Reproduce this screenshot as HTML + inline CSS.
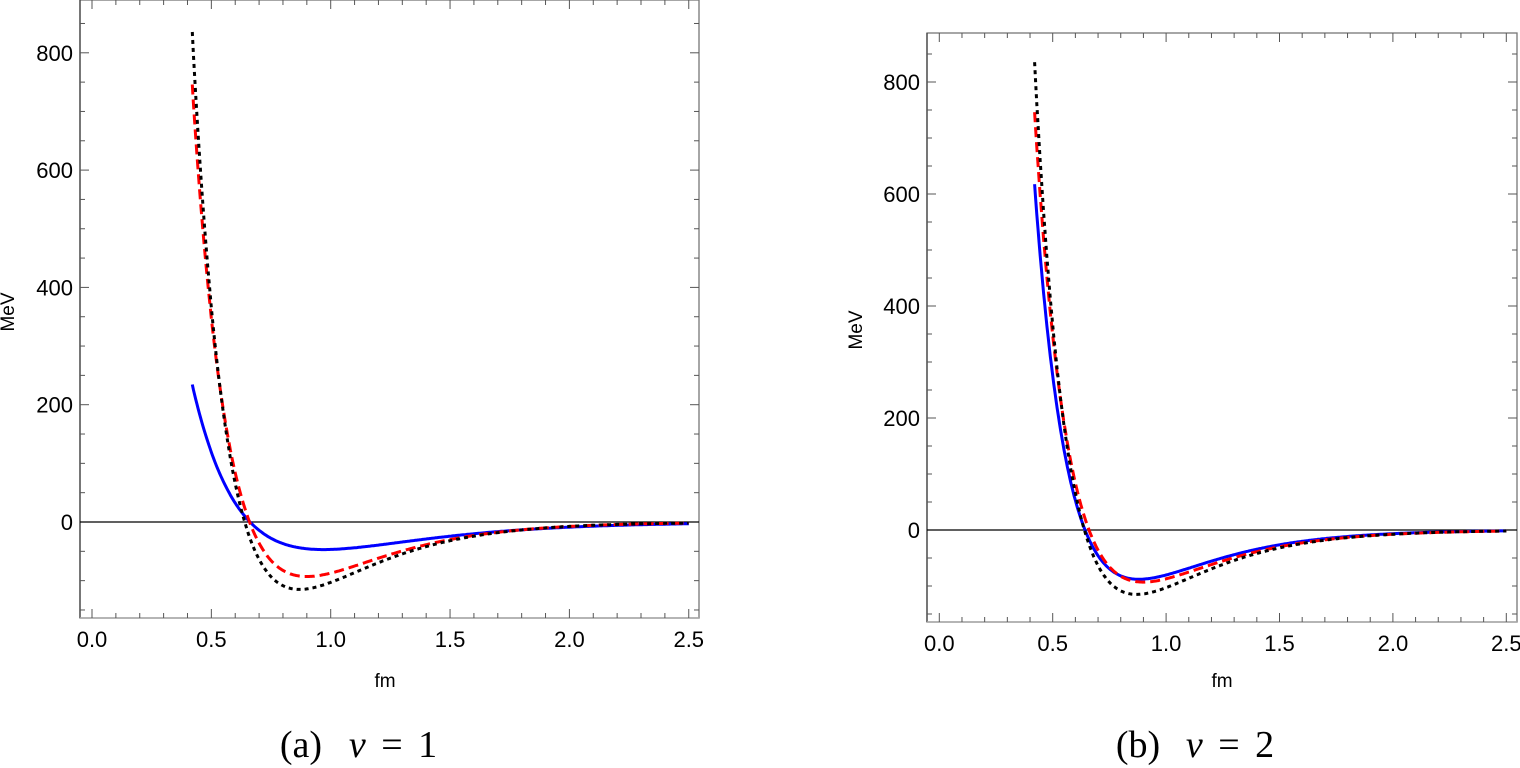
<!DOCTYPE html>
<html><head><meta charset="utf-8">
<style>
html,body{margin:0;padding:0;background:#fff;}
svg{display:block;}
text{font-family:"Liberation Sans",sans-serif;}
</style></head>
<body>
<svg id="s" width="1520" height="768" xmlns="http://www.w3.org/2000/svg"></svg>
<script>
const s=document.getElementById('s');
let h='';
function plot(p){
  const X=v=>p.x0+v*p.sx, Y=v=>p.y0-v*p.sy;
  h+=`<rect x="${p.L}" y="${p.T}" width="${p.R-p.L}" height="${p.B-p.T}" fill="none" stroke="#777" stroke-width="1.3"/>`;
  h+=`<line x1="${p.L}" y1="${p.T}" x2="${p.L}" y2="${p.B}" stroke="#444" stroke-width="1.3"/>`;
  h+=`<line x1="${p.L}" y1="${p.B}" x2="${p.R}" y2="${p.B}" stroke="#aaa" stroke-width="1.5"/>`;
  for(let i=0;i<=25;i++){const x=X(i/10);const L=i%5==0?9:5;
    h+=`<line x1="${x}" y1="${p.B}" x2="${x}" y2="${p.B-L}" stroke="#555"/>`;
    h+=`<line x1="${x}" y1="${p.T}" x2="${x}" y2="${p.T+L}" stroke="#555"/>`;
    if(i%5==0)h+=`<text x="${x}" y="${p.B+29}" font-size="22" text-anchor="middle">${(i/10).toFixed(1)}</text>`;}
  for(let v=-150;v<=850;v+=50){const y=Y(v);const L=v%200==0?9:5;
    h+=`<line x1="${p.L}" y1="${y}" x2="${p.L+L}" y2="${y}" stroke="#555"/>`;
    h+=`<line x1="${p.R}" y1="${y}" x2="${p.R-L}" y2="${y}" stroke="#555"/>`;
    if(v%200==0)h+=`<text x="${p.L-7}" y="${y+8}" font-size="22" text-anchor="end">${v}</text>`;}
  h+=`<line x1="${p.L}" y1="${Y(0)}" x2="${p.R}" y2="${Y(0)}" stroke="#000" stroke-width="1.3"/>`;
  h+=`<text x="${p.mx}" y="${p.my}" font-size="19" text-anchor="middle" transform="rotate(-90 ${p.mx} ${p.my})">MeV</text>`;
  h+=`<text x="${p.fx}" y="687" font-size="19" text-anchor="middle">fm</text>`;
  h+=`<text x="${p.fx-84}" y="757" font-size="38" text-anchor="middle" style="font-family:'Liberation Serif',serif">(${p.c})</text>`;
  h+=`<text x="${p.fx+8}" y="757" font-size="38" text-anchor="middle" style="font-family:'Liberation Serif',serif"><tspan font-style="italic">ν</tspan> <tspan dx="6">=</tspan> <tspan dx="6">${p.n}</tspan></text>`;
  for(const c of p.curves){
    let d='';
    for(let r=0.42;r<=2.5001;r+=0.005){const u=Math.exp(-c.a*(r-c.re));const v=c.D*(u*u-2*u);
      d+=(d?'L':'M')+X(r).toFixed(1)+','+Y(v).toFixed(1);}
    h+=`<path d="${d}" fill="none" stroke="${c.col}" stroke-width="3" ${c.dash?`stroke-dasharray="${c.dash}"`:''}/>`;
  }
}
const black={D:115,re:0.87,a:3.01,col:'#000',dash:'4 4'};
const red={D:93,re:0.9,a:2.89,col:'#f00',dash:'10 5'};
plot({L:80,R:699,T:0,B:618,x0:92,sx:238.7,y0:522,sy:0.5865,mx:14,my:312,fx:385,c:'a',n:1,
  curves:[{D:47,re:0.97,a:2.25,col:'#00f'},red,black]});
plot({L:927,R:1517,T:33,B:622,x0:939.3,sx:226.8,y0:530,sy:0.56,mx:862,my:330,fx:1222,c:'b',n:2,
  curves:[{D:88,re:0.88,a:2.92,col:'#00f'},red,black]});
s.innerHTML=h;
</script>
</body></html>
